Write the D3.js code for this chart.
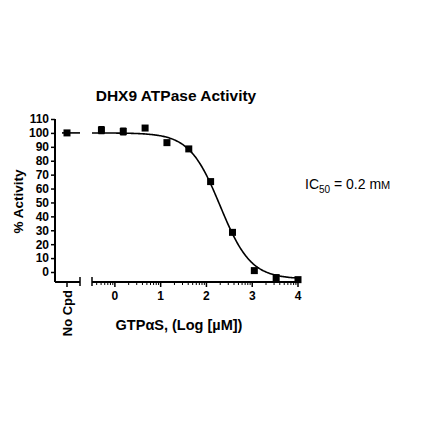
<!DOCTYPE html>
<html lang="en">
<head>
<meta charset="utf-8">
<script src="https://cdn.jsdelivr.net/npm/d3@7"></script>
<style>
  body { margin: 0; background: #fff; }
  text { font-family: Arial, "Liberation Sans", sans-serif; }
</style>
</head>
<body>
<div id="chart"></div>
<script>
    // values (x = log10 of concentration in uM)
    var logConc = [-0.294, 0.183, 0.660, 1.137, 1.614, 2.091, 2.569, 3.046, 3.523, 4.0];
    var activity = [102, 101, 103.5, 93, 88.5, 65, 28.5, 1, -4, -5.5];
    var errors = [2.5, 2.5, 0, 0, 0, 0, 0, 0, 0, 0];
    var noCpd = [100];
    var yTicks = [0, 10, 20, 30, 40, 50, 60, 70, 80, 90, 100, 110];
    var xTicks = [0, 1, 2, 3, 4];

    // fitted 4-parameter curve
    var fitTop = 100, fitBottom = -5, fitLogIC50 = 2.3, fitHill = 1.3;

    var width = 440, height = 440;

    var svg = d3.select("#chart").append("svg")
        .attr("width", width)
        .attr("height", height);

    var x = d3.scaleLinear().domain([-0.5, 4]).range([92, 298]);
    var y = d3.scaleLinear().domain([0, 110]).range([272, 119]);
    var axisY = 282;
    var noCpdX = 67;

    // title
    svg.append("text")
        .attr("x", 176).attr("y", 101)
        .attr("text-anchor", "middle")
        .style("font-size", "15.5px").style("font-weight", "bold")
        .text("DHX9 ATPase Activity");

    // y axis
    var yAxis = svg.append("g")
        .attr("transform", "translate(55,0)")
        .call(d3.axisLeft(y).tickValues(yTicks).tickSize(4).tickPadding(2));
    yAxis.select(".domain").remove();
    yAxis.selectAll("line").attr("stroke-width", 1.5);
    yAxis.selectAll("text").style("font-size", "12px").style("font-weight", "bold");
    svg.append("line")
        .attr("x1", 55).attr("x2", 55)
        .attr("y1", y(110)).attr("y2", axisY)
        .attr("stroke", "#000").attr("stroke-width", 2);

    svg.append("text")
        .attr("transform", "translate(23," + (y(50) - 1) + ") rotate(-90)")
        .attr("text-anchor", "middle")
        .style("font-size", "13.5px").style("font-weight", "bold")
        .text("% Activity");

    // No Cpd segment
    svg.append("line")
        .attr("x1", 55).attr("x2", 80)
        .attr("y1", axisY).attr("y2", axisY)
        .attr("stroke", "#000").attr("stroke-width", 2);
    svg.append("line")
        .attr("x1", 80).attr("x2", 80)
        .attr("y1", axisY - 5).attr("y2", axisY + 4)
        .attr("stroke", "#000").attr("stroke-width", 1.5);
    svg.append("line")
        .attr("x1", noCpdX).attr("x2", noCpdX)
        .attr("y1", axisY).attr("y2", axisY + 5)
        .attr("stroke", "#000").attr("stroke-width", 1.5);
    svg.append("text")
        .attr("transform", "translate(" + (noCpdX + 5) + "," + (axisY + 8) + ") rotate(-90)")
        .attr("text-anchor", "end")
        .style("font-size", "13px").style("font-weight", "bold")
        .text("No Cpd");

    // log x axis
    var g = svg.append("g");
    g.append("line")
        .attr("x1", x(-0.5)).attr("x2", x(4))
        .attr("y1", axisY).attr("y2", axisY)
        .attr("stroke", "#000").attr("stroke-width", 2);
    g.append("line")
        .attr("x1", x(-0.5)).attr("x2", x(-0.5))
        .attr("y1", axisY - 5).attr("y2", axisY + 4)
        .attr("stroke", "#000").attr("stroke-width", 1.5);

    var minor = [];
    for (var k = -1; k < 4; k++) {
        for (var m = 2; m < 10; m++) {
            var v = k + Math.log10(m);
            if (v > -0.5 && v < 4) minor.push(v);
        }
    }
    g.selectAll(".minor").data(minor)
      .enter().append("line")
        .attr("class", "minor")
        .attr("x1", function(d){ return x(d); })
        .attr("x2", function(d){ return x(d); })
        .attr("y1", axisY).attr("y2", axisY + 3)
        .attr("stroke", "#000").attr("stroke-width", 1);
    g.selectAll(".major").data(xTicks)
      .enter().append("line")
        .attr("class", "major")
        .attr("x1", function(d){ return x(d); })
        .attr("x2", function(d){ return x(d); })
        .attr("y1", axisY).attr("y2", axisY + 5)
        .attr("stroke", "#000").attr("stroke-width", 1.5);
    g.selectAll(".xlab").data(xTicks)
      .enter().append("text")
        .attr("class", "xlab")
        .attr("x", function(d){ return x(d); })
        .attr("y", axisY + 18)
        .attr("text-anchor", "middle")
        .style("font-size", "12px").style("font-weight", "bold")
        .text(function(d){ return d; });

    svg.append("text")
        .attr("x", 179).attr("y", 330)
        .attr("text-anchor", "middle")
        .style("font-size", "14.5px").style("font-weight", "bold")
        .text("GTPαS, (Log [µM])");

    // fitted curve
    var curveX = d3.range(-0.5, 4.0001, 0.02);
    var fit = function(v){
        return fitBottom + (fitTop - fitBottom) / (1 + Math.pow(10, (v - fitLogIC50) * fitHill));
    };
    svg.append("path")
        .datum(curveX)
        .attr("fill", "none").attr("stroke", "#000").attr("stroke-width", 1.6)
        .attr("d", d3.line()
            .x(function(d){ return x(d); })
            .y(function(d){ return y(fit(d)); }));

    // error bars
    var pts = logConc.map(function(d, i){ return {x: d, y: activity[i], e: errors[i]}; });
    svg.selectAll(".err").data(pts.filter(function(d){ return d.e > 0; }))
      .enter().append("path")
        .attr("class", "err")
        .attr("fill", "none").attr("stroke", "#000").attr("stroke-width", 1.2)
        .attr("d", function(d){
            var cx = x(d.x), t = y(d.y + d.e), b = y(d.y - d.e);
            return "M" + (cx - 3) + "," + t + "H" + (cx + 3) + "M" + cx + "," + t + "V" + b +
                   "M" + (cx - 3) + "," + b + "H" + (cx + 3);
        });

    // points
    var s = 7;
    svg.selectAll(".pt").data(pts)
      .enter().append("rect")
        .attr("class", "pt")
        .attr("x", function(d){ return x(d.x) - s / 2; })
        .attr("y", function(d){ return y(d.y) - s / 2; })
        .attr("width", s).attr("height", s)
        .attr("fill", "#000");

    // No Cpd point with mean line
    svg.append("line")
        .attr("x1", noCpdX - 5).attr("x2", 80)
        .attr("y1", y(noCpd[0])).attr("y2", y(noCpd[0]))
        .attr("stroke", "#000").attr("stroke-width", 1.6);
    svg.selectAll(".nc").data(noCpd)
      .enter().append("rect")
        .attr("class", "nc")
        .attr("x", noCpdX - s / 2)
        .attr("y", function(d){ return y(d) - s / 2; })
        .attr("width", s).attr("height", s)
        .attr("fill", "#000");

    // IC50 annotation
    var ic = svg.append("text")
        .attr("x", 305).attr("y", 189)
        .style("font-size", "14px");
    ic.append("tspan").text("IC");
    ic.append("tspan").attr("dy", 4).style("font-size", "10px").text("50");
    ic.append("tspan").attr("dy", -4).text(" = 0.2 m");
    ic.append("tspan").style("font-size", "11px").text("M");
</script>
</body>
</html>
